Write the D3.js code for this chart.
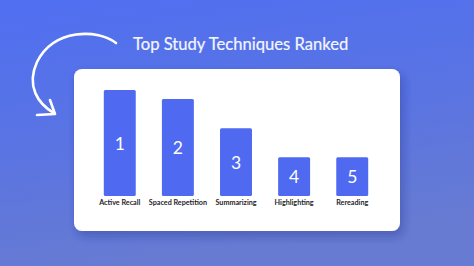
<!DOCTYPE html>
<html><head><meta charset="utf-8">
<script src="https://cdn.jsdelivr.net/npm/d3@7"></script>
<style>html,body{margin:0;padding:0;overflow:hidden;}</style>
</head><body>
<script>
const categories = ["Active Recall","Spaced Repetition","Summarizing","Highlighting","Rereading"];
const ranks = ["1","2","3","4","5"];
const scores = [100, 91.5, 64, 36.5, 36.5];
const title = "Top Study Techniques Ranked";

const W = 474, H = 266;
const svg = d3.select("body").append("svg").attr("width", W).attr("height", H);
const defs = svg.append("defs");
const bg = defs.append("linearGradient").attr("id","bg").attr("x1",0).attr("y1",0).attr("x2",0.25).attr("y2",1);
bg.append("stop").attr("offset","0%").attr("stop-color","#506ff2");
bg.append("stop").attr("offset","55%").attr("stop-color","#5a74e2");
bg.append("stop").attr("offset","100%").attr("stop-color","#677bd2");
svg.append("rect").attr("width",W).attr("height",H).attr("fill","url(#bg)");

const f = defs.append("filter").attr("id","sh").attr("x","-20%").attr("y","-20%").attr("width","140%").attr("height","150%");
f.append("feDropShadow").attr("dx",3).attr("dy",5).attr("stdDeviation",5).attr("flood-color","#1a2a80").attr("flood-opacity",0.35);

// card
svg.append("rect").attr("x",74).attr("y",69).attr("width",326).attr("height",162).attr("rx",8)
  .attr("fill","#ffffff").attr("filter","url(#sh)");

// title
svg.append("text").attr("x",133).attr("y",50).text(title)
  .attr("font-family","Lato").attr("font-size",16.6).attr("fill","#f4f6ff")
  .attr("stroke","#f4f6ff").attr("stroke-width",0.2);

// arrow
svg.append("path").attr("d","M116,43 C98,29 54,28 37,62 C26,86 38,104 54,113")
  .attr("fill","none").attr("stroke","#ffffff").attr("stroke-width",2.6).attr("stroke-linecap","round");
svg.append("path").attr("d","M37,115 L55,114 L50,100")
  .attr("fill","none").attr("stroke","#ffffff").attr("stroke-width",2.6).attr("stroke-linecap","round").attr("stroke-linejoin","round");

const x = d3.scaleBand().domain(categories).range([91, 381]).paddingInner(0.45).paddingOuter(0.22);
const y = d3.scaleLinear().domain([0,100]).range([196, 90]);

const g = svg.append("g");
g.selectAll("rect.bar").data(categories).join("rect").attr("class","bar")
  .attr("x", d => x(d)).attr("width", x.bandwidth())
  .attr("y", (d,i) => y(scores[i])).attr("height", (d,i) => y(0) - y(scores[i]))
  .attr("rx",1.5).attr("fill","#4f6af1");

g.selectAll("text.num").data(categories).join("text").attr("class","num")
  .attr("x", d => x(d) + x.bandwidth()/2)
  .attr("y", (d,i) => (y(scores[i]) + y(0))/2)
  .attr("text-anchor","middle").attr("dominant-baseline","central")
  .attr("font-family","Lato").attr("font-size",17.5).attr("fill","#ffffff")
  .text((d,i) => ranks[i]);

const axis = d3.axisBottom(x).tickSize(0).tickPadding(0);
const ax = svg.append("g").attr("transform","translate(0,200)").call(axis);
ax.select(".domain").remove();
ax.selectAll("text").attr("font-family","Lato").attr("font-weight","bold").attr("font-size",7.2)
  .attr("fill","#1e1e28").attr("dy","0.71em");
</script>
</body></html>
